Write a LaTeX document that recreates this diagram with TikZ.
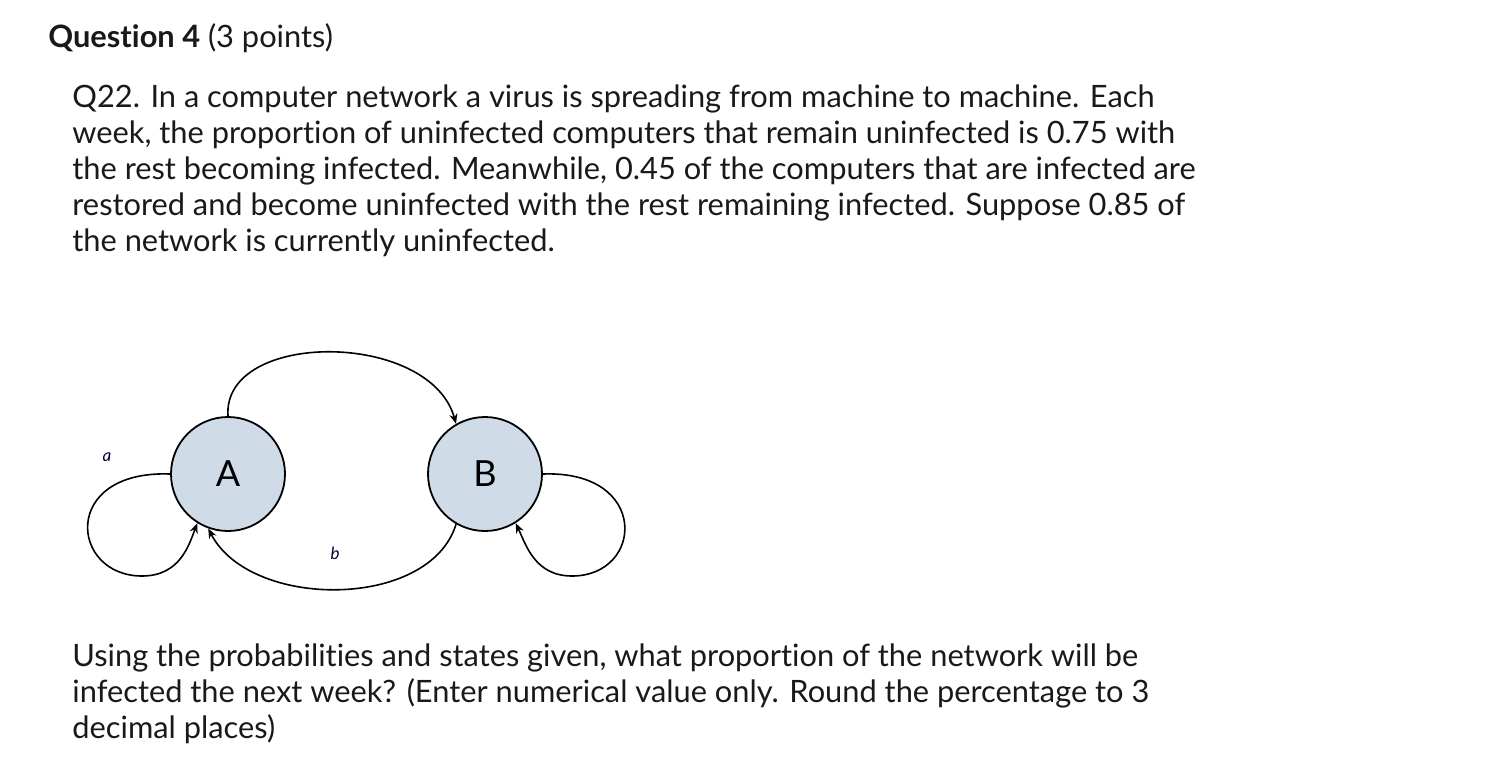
\documentclass[tikz,border=0pt]{standalone}
\usepackage{fontspec}
\setmainfont[RawFeature=-liga]{Lato}
\usetikzlibrary{arrows.meta}
\definecolor{stfill}{HTML}{CFDCE8}
\begin{document}
\begin{tikzpicture}[x=0.5pt,y=-0.5pt,
  txt/.style={anchor=base west,inner sep=0pt,font=\fontsize{15.4}{18}\selectfont,text=black!90},
  st/.style={circle,draw,line width=0.9pt,fill=stfill,minimum size=57pt,inner sep=0pt,font=\fontsize{18}{20}\selectfont},
  edge/.style={line width=0.8pt,-{Stealth[length=5pt,width=4pt]}},
  lab/.style={font=\itshape\fontsize{8.5}{10}\selectfont,text=black!80!blue}]
\useasboundingbox (0,0) rectangle (1506,772);
\node[txt] (title) at (48,47) {\textbf{Question 4} (3 points)};
\node[txt] (l1) at (72,107) {Q22. In a computer network a virus is spreading from machine to machine. Each};
\node[txt] (l2) at (72,143) {week, the proportion of uninfected computers that remain uninfected is 0.75 with};
\node[txt] (l3) at (72,179) {the rest becoming infected. Meanwhile, 0.45 of the computers that are infected are};
\node[txt] (l4) at (72,215) {restored and become uninfected with the rest remaining infected. Suppose 0.85 of};
\node[txt] (l5) at (72,251) {the network is currently uninfected.};
\node[txt] (m1) at (72,666) {Using the probabilities and states given, what proportion of the network will be};
\node[txt] (m2) at (72,702) {infected the next week? (Enter numerical value only. Round the percentage to 3};
\node[txt] (m3) at (72,738) {decimal places)};
\node[st] (A) at (228,474) {A};
\node[st] (B) at (485,474) {B};
\coordinate (la) at (142,576);
\coordinate (lb) at (572,576);
\draw[edge] (A.90) .. controls (222,330) and (430,330) .. (B.120);
\draw[edge] (B.240) .. controls (430,610) and (250,610) .. (A.250);
\draw[edge] (A.180) .. controls (60,470) and (70,576) .. (la) .. controls (180,576) and (189,545) .. (A.238);
\draw[edge] (B.0) .. controls (650,470) and (644,576) .. (lb) .. controls (535,576) and (526,545) .. (B.302);
\node[lab] (a) at (107,457) {a};
\node[lab] (b) at (335,553) {b};
\end{tikzpicture}
\end{document}
